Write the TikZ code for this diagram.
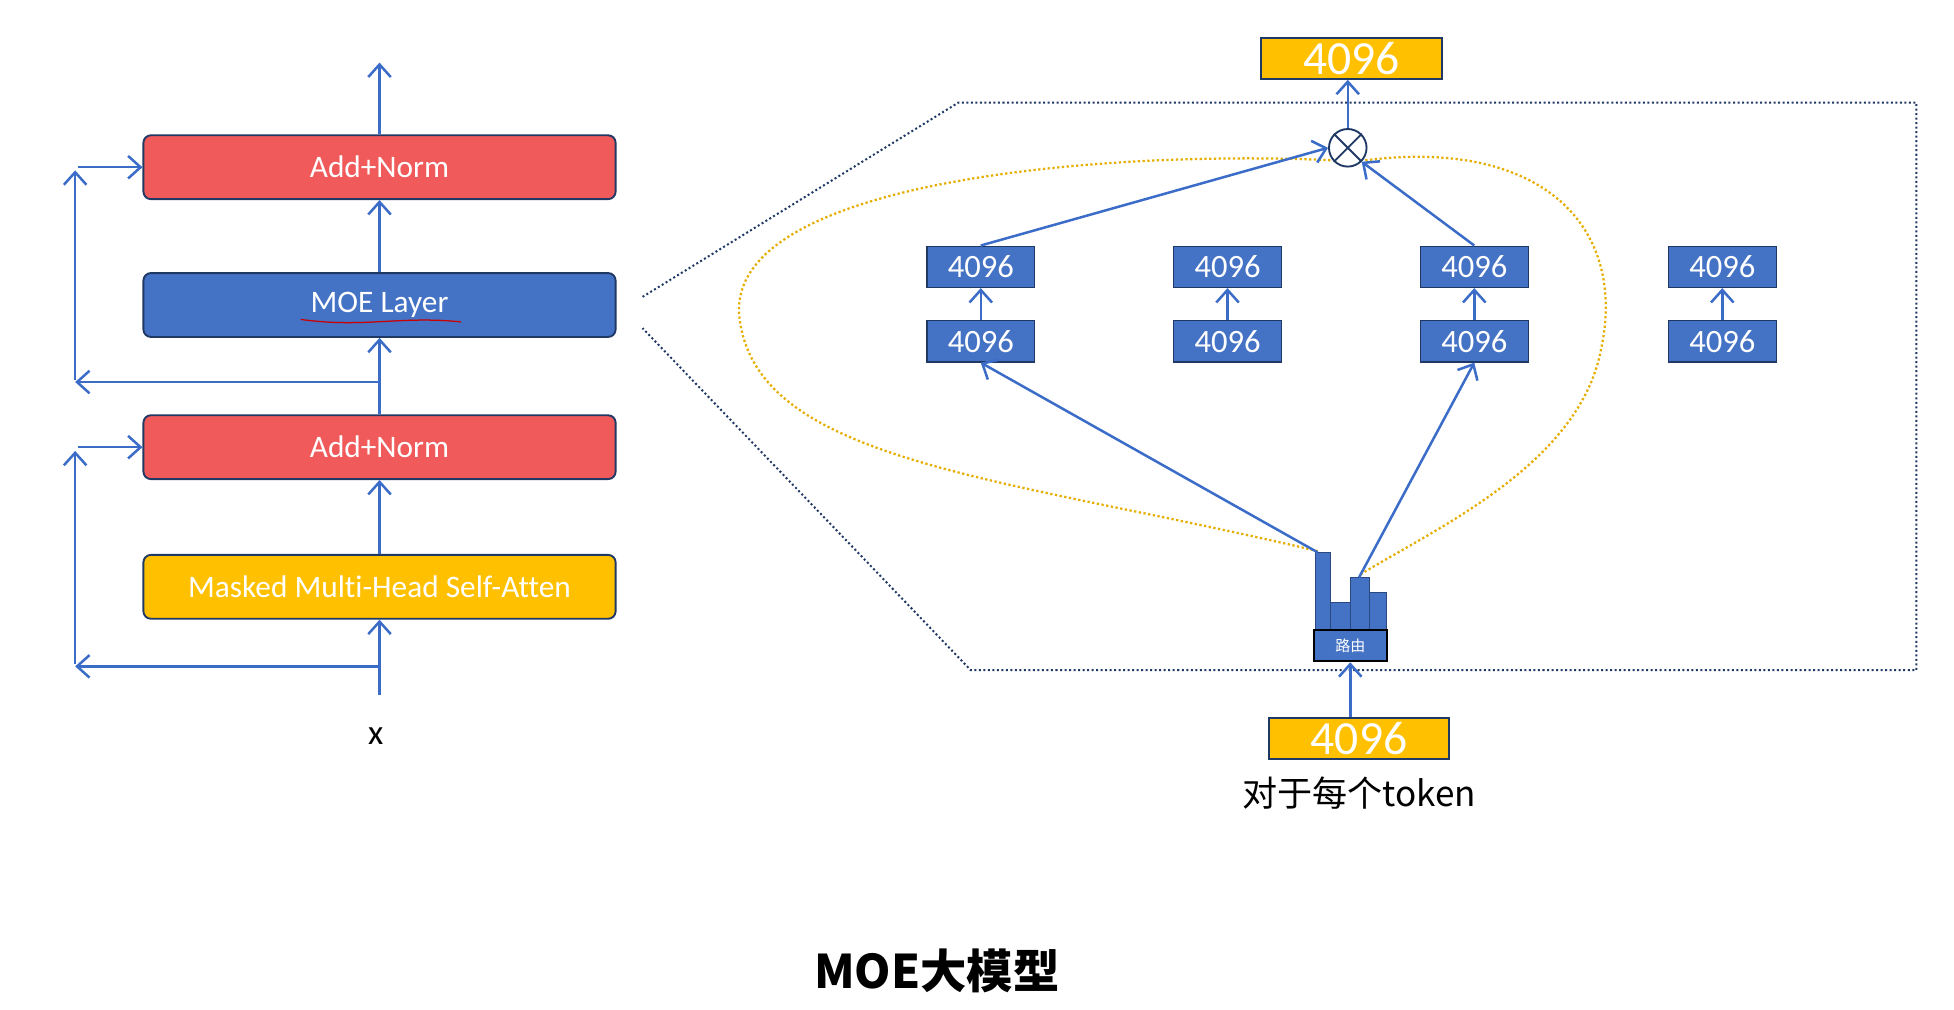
\documentclass[tikz,border=0pt]{standalone}
\usepackage{fontspec}
\setmainfont{Carlito}[Ligatures=NoCommon]
\newfontfamily\cjk{Noto Sans CJK SC}
\usetikzlibrary{arrows.meta}
\definecolor{bl}{HTML}{4472C4}
\definecolor{dk}{HTML}{1F3864}
\definecolor{rd}{HTML}{F05A5B}
\definecolor{og}{HTML}{FFC000}
\definecolor{ln}{HTML}{3A6CC8}
\begin{document}
\begin{tikzpicture}[x=1pt,y=-1pt,
 big/.style={draw=dk,line width=1.5pt,rounded corners=6pt,minimum width=377pt,minimum height=51pt,text=white,font=\fontsize{25}{27}\selectfont},
 ex/.style={draw=dk,line width=1pt,fill=bl,minimum width=86pt,minimum height=33pt,text=white,font=\fontsize{26}{28}\selectfont,inner sep=0pt},
 ob/.style={draw=dk,line width=1.5pt,fill=og,minimum width=144pt,minimum height=33pt,text=white,font=\fontsize{38}{40}\selectfont,inner sep=0pt},
 ar/.style={draw=ln,line width=2pt,-{Straight Barb[length=10pt,width=18pt,line width=2pt]}},
 ln/.style={draw=ln,line width=2pt}]
\useasboundingbox (0,0) rectangle (1560,806);
% left stack
\node[big,fill=rd] (an2) at (303,133.5) {Add+Norm};
\node[big,fill=bl] (moe) at (303,243.5) {MOE Layer};
\node[big,fill=rd] (an1) at (303,357) {Add+Norm};
\node[big,fill=og] (mm) at (303,468.5) {Masked Multi-Head Self-Atten};
\draw[red!80!black,line width=1pt] (240,255) .. controls (290,262) and (320,252) .. (368,257);
\node[font=\fontsize{28}{30}\selectfont] (x) at (300,588) {x};
\coordinate (in) at (303,555);
\coordinate (out) at (303,50);
\draw[ar] (in) -- (mm.south);
\draw[ar] (mm.north) -- (an1.south);
\draw[ar] (an1.north) -- (moe.south);
\draw[ar] (moe.north) -- (an2.south);
\draw[ar] (an2.north) -- (out);
\coordinate (r1a) at (303,532); \coordinate (r1b) at (60,532); \coordinate (r1c) at (60,360); \coordinate (r1d) at (62,357);
\draw[ar] (r1a) -- (r1b);
\draw[ar] (60,530) -- (r1c);
\draw[ar] (r1d) -- (an1.west);
\coordinate (r2a) at (303,305); \coordinate (r2b) at (60,305); \coordinate (r2c) at (60,136); \coordinate (r2d) at (62,133.5);
\draw[ar] (r2a) -- (r2b);
\draw[ar] (60,303) -- (r2c);
\draw[ar] (r2d) -- (an2.west);
% zoom box
\draw[dk,line width=1.6pt,dotted] (513,237) -- (765,82) -- (1530,82) -- (1530,535) -- (775,535) -- (513,262);
% orange dotted
\draw[og!90!black,line width=1.8pt,dotted] (1052,440) .. controls (800,380) and (600,370) .. (590,250) .. controls (585,140) and (900,120) .. (1064,128);
\draw[og!90!black,line width=1.8pt,dotted] (1090,128) .. controls (1230,110) and (1300,180) .. (1278,280) .. controls (1260,370) and (1150,420) .. (1087,458);
% experts
\foreach \i/\x in {1/783,2/980,3/1177,4/1375}{
 \node[ex] (b\i) at (\x,272.5) {4096};
 \node[ex] (t\i) at (\x,213) {4096};
 \draw[ar] (b\i.north) -- (t\i.south);
}
% combiner
\node[draw=dk,line width=1.5pt,circle,minimum size=30pt,inner sep=0pt] (c) at (1076,118) {};
\draw[dk,line width=1.5pt] (c.north west) -- (c.south east) (c.north east) -- (c.south west);
\node[ob] (o) at (1079,46.5) {4096};
\draw[ar] (c.north) -- (c.north |- o.south);
\draw[ar] (t1.north) -- (c.west);
\draw[ar] (t3.north) -- (c.south east);
% router
\begin{scope}[draw=dk!70!bl,line width=0.8pt]
\filldraw[fill=bl] (1050,441) rectangle (1062,503);
\filldraw[fill=bl] (1062,481) rectangle (1078,503);
\filldraw[fill=bl] (1078,461) rectangle (1093,503);
\filldraw[fill=bl] (1093,473) rectangle (1107,503);
\end{scope}
\node[draw=black,line width=1.5pt,fill=bl,minimum width=58pt,minimum height=25pt,inner sep=0pt,text=white,font=\cjk\fontsize{12}{14}\selectfont] (r) at (1078,515.5) {路由};
\coordinate (ra) at (1052,441);
\coordinate (rb) at (1085,461);
\draw[ar] (ra) -- (b1.south);
\draw[ar] (rb) -- (b3.south);
\node[ob] (i) at (1085,589.5) {4096};
\draw[ar] (r.south |- i.north) -- (r.south);
\node[font=\cjk\fontsize{28}{30}\selectfont] (lab) at (1085,633) {对于每个token};
\node[font=\cjk\bfseries\fontsize{37}{40}\selectfont] (title) at (748,775) {MOE大模型};
\end{tikzpicture}
\end{document}
